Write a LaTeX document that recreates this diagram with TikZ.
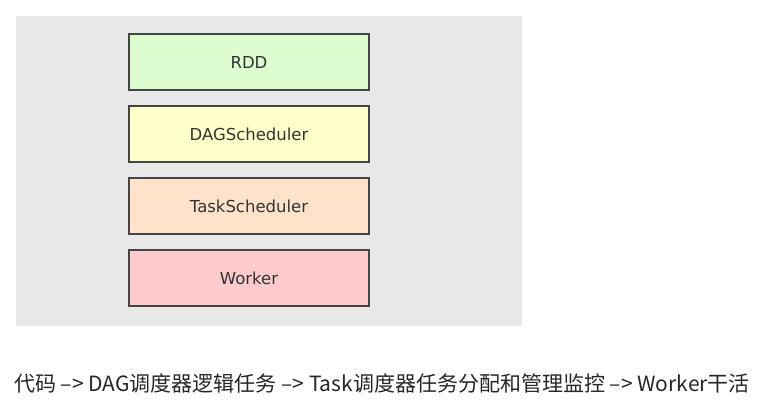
\documentclass[tikz,border=0pt]{standalone}
\usepackage{fontspec}
\setmainfont{DejaVu Sans}
\newfontfamily\cjk{Noto Sans CJK SC}
\definecolor{bggray}{HTML}{E8E8E8}
\definecolor{cRDD}{HTML}{DDFDD0}
\definecolor{cDAG}{HTML}{FFFFC9}
\definecolor{cTask}{HTML}{FFE2CA}
\definecolor{cWork}{HTML}{FFCACB}
\definecolor{edge}{HTML}{444444}
\tikzset{layer/.style={draw=edge,line width=2pt,minimum width=240pt,minimum height=56pt,anchor=north west,inner sep=0pt,font=\fontsize{16.5}{19}\selectfont,text=black!80}}
\begin{document}
\begin{tikzpicture}[x=1pt,y=-1pt]
\useasboundingbox (0,0) rectangle (766,404);
\fill[bggray] (16,16) rectangle (522,326);
\node[layer,fill=cRDD] (rdd) at (128,33) {RDD};
\node[layer,fill=cDAG] (dag) at (128,105) {DAGScheduler};
\node[layer,fill=cTask] (task) at (128,177) {TaskScheduler};
\node[layer,fill=cWork] (worker) at (128,249) {Worker};
\node[anchor=west,inner sep=0pt,font=\cjk\fontsize{21}{24}\selectfont,text=black!85] (cap) at (14,383) {代码 –> DAG调度器逻辑任务 –> Task调度器任务分配和管理监控 –> Worker干活};
\end{tikzpicture}
\end{document}
